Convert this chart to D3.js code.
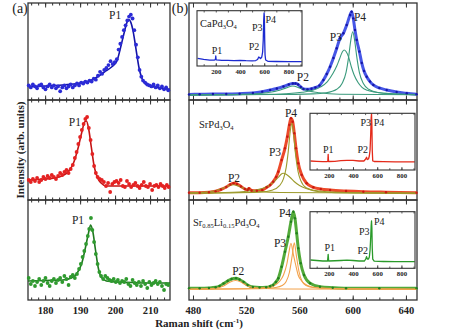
<!DOCTYPE html>
<html>
<head>
<meta charset="utf-8">
<script src="https://cdn.jsdelivr.net/npm/d3@7"></script>
<style>
  body { margin: 0; background: #fff; }
  svg text { font-family: "Liberation Serif", "DejaVu Serif", serif; fill: #222; }
  .tick text { font-weight: bold; }
</style>
</head>
<body>
<svg width="474" height="331" font-family="Liberation Serif, DejaVu Serif, serif"></svg>
<script>
// ---- (a) P1 mode, raw points and fitted line [shift, intensity] ----
const caP1Dots = [[175.3,15],[175.9,13],[176.5,16],[177.1,14],[177.7,12],[178.3,15],[178.9,16],[179.5,13],[180.1,11],[180.7,14],[181.3,16],[181.9,13],[182.5,15],[183.1,12],[183.7,14],[184.3,9],[184.9,13],[185.5,15],[186.1,12],[186.7,14],[187.3,16],[187.9,13],[188.5,15],[189.1,17],[189.7,15],[190.3,18],[190.9,17],[191.5,19],[192.1,18],[192.7,20],[193.3,19],[193.9,22],[194.5,21],[195.1,25],[195.7,29],[196.3,27],[196.9,31],[197.5,33],[198.1,36],[198.7,40],[199.3,37],[199.9,39],[200.5,42],[201.0,52],[201.5,58],[202.0,65],[202.5,72],[203.0,77],[203.5,82],[204.0,86],[204.5,88],[205.0,84],[205.5,72],[206.0,57],[206.5,44],[207.0,31],[207.5,24],[208.0,20],[208.6,18],[209.2,16],[209.8,15],[210.4,14],[211.0,16],[211.6,13],[212.2,15],[212.8,12],[213.4,14],[214.0,11],[214.6,13],[215.2,10]];
const caP1Fit = [[175.1,14],[180,14.5],[185,15.5],[190,17.5],[193,20],[195,24],[197,29],[199,34],[200.5,40],[201.5,53],[202.5,68],[203.3,79],[203.9,83],[204.5,80],[205.2,70],[206,52],[206.8,34],[207.5,24],[208.3,18],[209.5,15],[212,13],[215.7,11]];

const srP1Dots = [[175.3,20],[175.9,18],[176.5,21],[177.1,19],[177.7,22],[178.3,18],[178.9,20],[179.5,23],[180.1,21],[180.7,24],[181.3,22],[181.9,25],[182.5,23],[183.1,21],[183.7,24],[184.3,27],[184.9,25],[185.5,28],[186.1,30],[186.7,27],[187.3,31],[187.9,35],[188.5,42],[189.0,48],[189.5,56],[190.0,63],[190.5,70],[191.0,76],[191.5,81],[192.0,83],[192.5,72],[193.0,60],[193.5,46],[194.0,34],[194.5,27],[195.0,23],[195.6,21],[196.2,20],[196.8,18],[197.4,14],[198.0,17],[198.6,8],[199.2,16],[199.8,18],[200.4,19],[201.0,17],[201.6,20],[202.2,14],[202.8,13],[203.4,19],[204.0,16],[204.6,13],[205.2,15],[205.8,17],[206.4,14],[207.0,12],[207.6,15],[208.2,18],[208.8,14],[209.4,13],[210.0,16],[210.6,10],[211.2,14],[211.8,15],[212.4,13],[213.0,16],[213.6,14],[214.2,12],[214.8,15],[215.3,13]];
const srP1Fit = [[175.1,20],[180,21],[184,23],[186.5,28],[188,36],[189.5,53],[190.5,68],[191.3,78],[191.8,79],[192.4,72],[193.2,53],[194,34],[195,22],[196,17],[197.5,14],[200,14],[205,14],[210,14],[215.7,14]];

const liP1Dots = [[175.3,22],[175.9,16],[176.5,19],[177.1,14],[177.7,18],[178.3,21],[178.9,15],[179.5,19],[180.1,22],[180.7,17],[181.3,14],[181.9,19],[182.5,21],[183.1,17],[183.7,20],[184.3,22],[184.9,18],[185.5,24],[186.1,21],[186.7,15],[187.3,23],[187.9,25],[188.5,22],[189.1,26],[189.7,31],[190.2,36],[190.7,43],[191.2,49],[191.7,56],[192.2,64],[192.6,71],[193.1,82],[193.5,70],[194.0,58],[194.5,46],[195.0,36],[195.5,28],[196.0,24],[196.6,21],[197.2,24],[197.8,22],[198.4,20],[199.0,19],[199.6,21],[200.2,18],[200.8,20],[201.4,17],[202.0,19],[202.6,18],[203.2,21],[203.8,16],[204.4,14],[205.0,20],[205.6,17],[206.2,15],[206.8,18],[207.4,14],[208.0,19],[208.6,16],[209.2,12],[209.8,18],[210.4,15],[211.0,17],[211.6,19],[212.2,16],[212.8,18],[213.4,14],[214.0,10],[214.6,16],[215.2,15]];
const liP1Fit = [[175.1,19],[180,19.5],[185,20],[187.5,22],[189,26],[190.5,37],[191.5,52],[192.4,67],[193.0,75],[193.6,69],[194.4,50],[195.2,32],[196,23],[197.5,19],[200,18],[205,17.5],[210,17],[215.7,17]];

// ---- (b) P2-P4 region, measured spectra ----
const caSpectrum = [[477,5.7],[485,5.9],[495,6.2],[505,6.2],[515,6.5],[525,7.2],[532,8.6],[538,10.3],[543,11.9],[548,13.9],[552,16],[555,17],[557,17],[559,16],[561,13.4],[563,11.3],[566,11],[569,11.6],[572,12.9],[575,14.9],[578,20.6],[580.5,26.8],[583,34.3],[585.5,43.3],[588,53.3],[590.4,63.6],[593,68.8],[595.5,77.3],[598,87.6],[599.2,91],[600.4,84.2],[601.7,72.2],[603,61.9],[605,50],[606.8,38.1],[608.5,30],[610.5,24],[613,19],[615.5,15.5],[620,12.4],[625.5,10.3],[633,8.2],[640.6,6.9],[648,5.9]];
const srSpectrum = [[477,7.3],[485,7.3],[492,7.7],[497,8.7],[501,10.5],[505,13],[508,15.5],[510.5,16.7],[513,16],[516,13.5],[519,11],[521,10],[522,11.5],[524,9.5],[528,9.3],[532,10],[535.4,12.7],[538,15],[540.3,18.3],[542.5,23],[544.1,28.3],[546.6,40],[549.1,51.7],[550.9,63.3],[552.4,75],[553.6,81.7],[554.9,78.3],[556.1,66.7],[557.4,51.7],[559.1,36.7],[561.7,25],[565.4,16.7],[570.4,12.7],[576,11],[583,10],[595,9],[608,8.3],[625,7.8],[648,7.3]];
const liSpectrum = [[477,11.7],[485,11.7],[492,12],[497,12.7],[500,14],[503,16.5],[506,19],[509,21],[512.3,21.7],[515,20.5],[518,18],[521,15],[525,13],[530,12.5],[535,12.7],[538,13.7],[540.3,15],[542.3,18],[544.1,21.7],[546.6,33.3],[549.1,48.3],[551.6,63.3],[553.6,78.3],[555.4,88.3],[556.6,81.7],[557.9,66.7],[559.1,51.7],[560.9,36.7],[563.4,25],[568,16.7],[575.4,13.3],[585,12.3],[595,11.7],[620,11.7],[648,11.7]];

// ---- (b) fitted components ----
const caP2Comp = [[477,5.3],[520,6],[535,7.5],[545,10],[550,12.5],[555,14.5],[560,12.5],[565,10],[575,7.5],[590,6],[648,5.4]];
const caP3Comp = [[477,5.3],[530,5.8],[550,6.5],[562,8],[570,10],[576,13.5],[581,19],[585,27],[588,35],[590,42],[592,49],[593.5,51.5],[595,50],[597,44],[599,34],[601,26],[604,18],[607,13],[611,10],[616,8.2],[625,6.8],[640,5.8],[648,5.6]];
const caP4Comp = [[477,5.3],[540,5.6],[570,6.3],[580,7.4],[588,11],[592,17],[595,28.5],[597,45],[598.5,61],[600,70.4],[601.5,61],[603,45],[605,28.5],[608,17],[612,11],[620,7.4],[630,6.2],[648,5.5]];

const srP2Comp = [[477,7],[490,8],[498,9.8],[503,12],[507,14.3],[510.3,15.3],[514,14],[518,11.8],[523,9.8],[530,8.4],[545,7.5],[648,6.8]];
const srP3Comp = [[477,6.9],[510,7.8],[525,9.5],[532,11.5],[537,14.5],[541,18.5],[544,22.5],[546,25.5],[547.8,26.7],[550,25.8],[553,22.5],[556,18.5],[560,14.5],[565,11.5],[572,9.5],[585,8],[610,7.2],[648,6.9]];
const srP4Comp = [[477,6.8],[530,7.9],[540,10.1],[545,14.3],[548,21.4],[550,32.4],[551.5,47.6],[553,68],[554.2,76.7],[555.5,66.8],[557,46.3],[559,28.2],[561,19.4],[565,12.3],[575,8.3],[600,7],[648,6.8]];

const liP2Comp = [[477,10.8],[495,11.5],[503,14],[508,18],[512,19.5],[516,18],[521,14],[530,11.8],[548,11],[648,10.8]];
const liP3Comp = [[477,10.8],[520,11.3],[535,12.5],[541,14.5],[545,18.5],[548,25],[550.5,36],[552,47],[553.6,56.7],[555.2,47],[557,36],[559,25],[562,18.5],[566,14.5],[572,12.5],[590,11.3],[648,10.8]];
const liP4Comp = [[477,10.8],[530,11.2],[542,12.5],[547,14.5],[550,18.5],[552.5,28],[554.5,44],[556.1,57.3],[557.7,44],[559.7,28],[562,18.5],[565,14.5],[570,12.5],[590,11.2],[648,10.8]];

// ---- insets: full spectra ----
const caFull = [[50,13.9],[100,12.1],[150,10.8],[190,10.8],[197,11.8],[200,18.1],[203,11.2],[250,10.3],[300,10.3],[350,9.9],[400,10.3],[450,9.6],[500,9.4],[530,9.9],[545,11.8],[555,16.3],[560,15.4],[570,13.6],[580,16.3],[587,25.3],[592,47],[596,83.2],[599,95.8],[601,90.4],[604,47],[607,19.9],[612,10.8],[630,8.5],[700,8.1],[800,7.8],[910,7.8]];
const srFull = [[50,15.9],[100,15.3],[150,14.6],[185,14.6],[192,15],[195,27.7],[198,15],[250,15.3],[300,16.4],[350,17.1],[400,16.8],[450,15.9],[490,15.9],[505,19.4],[512,22.4],[518,18.5],[528,19.4],[535,24.7],[541,35.3],[546,61.7],[550,91.7],[553,98.8],[556,79.4],[559,35.3],[563,15.9],[575,15],[650,14.6],[750,14.3],[910,14.3]];
const liFull = [[50,14.7],[100,13.8],[150,12.9],[190,12.9],[195,24.7],[199,12.9],[250,13.3],[300,13.8],[350,14.3],[400,13.8],[450,12.9],[495,12.9],[505,16.4],[512,20.5],[518,16.4],[528,16.4],[535,20],[541,32.3],[546,53.5],[550,74.7],[553,83.6],[556,71.2],[559,35.9],[563,16.4],[575,12.5],[650,12],[750,11.7],[910,11.7]];

const ticksA = [180, 190, 200, 210];
const ticksB = [480, 520, 560, 600, 640];
const ticksInset = [200, 400, 600, 800];

const svg = d3.select('svg');

const rows = [{ top: 3, bottom: 100 }, { top: 100, bottom: 200 }, { top: 200, bottom: 300 }];
const xA = d3.scaleLinear().domain([175.1, 215.7]).range([28, 170]);
const xB = d3.scaleLinear().domain([477, 648.3]).range([189, 417]);
const yRow = rows.map(r => d3.scaleLinear().domain([0, 100]).range([r.bottom, r.top]));

function frame(x, r, major, minor, labels) {
  const g = svg.append('g');
  const hide = sel => sel.select('.domain').remove();
  g.append('g').attr('transform', `translate(0,${r.bottom})`)
    .call(d3.axisBottom(x).tickValues(minor).tickSize(-2.5).tickFormat('')).call(hide);
  g.append('g').attr('transform', `translate(0,${r.top})`)
    .call(d3.axisTop(x).tickValues(minor).tickSize(-2.5).tickFormat('')).call(hide);
  g.append('g').attr('transform', `translate(0,${r.top})`)
    .call(d3.axisTop(x).tickValues(major).tickSize(-4.5).tickFormat('')).call(hide);
  const bx = g.append('g').attr('transform', `translate(0,${r.bottom})`)
    .call(d3.axisBottom(x).tickValues(major).tickSize(-4.5).tickPadding(7)
      .tickFormat(labels ? d3.format('d') : '')).call(hide);
  bx.selectAll('.tick text').attr('font-size', 10.5).attr('fill', '#222');
  g.selectAll('.tick line').attr('stroke', '#333').attr('stroke-width', 1);
  const [x0, x1] = x.range();
  g.append('rect').attr('x', x0).attr('y', r.top).attr('width', x1 - x0)
    .attr('height', r.bottom - r.top).attr('fill', 'none')
    .attr('stroke', '#333').attr('stroke-width', 1.3);
}

function curve(x, y, data, color, width, shape) {
  svg.append('path').datum(data)
    .attr('fill', 'none').attr('stroke', color).attr('stroke-width', width)
    .attr('stroke-linejoin', 'round')
    .attr('d', d3.line().x(d => x(d[0])).y(d => y(d[1])).curve(shape || d3.curveMonotoneX));
}

function dots(x, y, data, color, r) {
  svg.append('g').selectAll('circle').data(data).join('circle')
    .attr('cx', d => x(d[0])).attr('cy', d => y(d[1])).attr('r', r).attr('fill', color);
}

function label(x, y, pos, text, size) {
  svg.append('text').attr('x', x(pos[0])).attr('y', y(pos[1]))
    .attr('text-anchor', 'middle').attr('dominant-baseline', 'central')
    .attr('font-size', size).text(text);
}

// chemical formula with subscripts, parts = [[text, isSub], ...]
function formula(x, y, pos, parts, size) {
  const t = svg.append('text').attr('x', x(pos[0])).attr('y', y(pos[1]))
    .attr('dominant-baseline', 'central').attr('font-size', size);
  let sub = false;
  parts.forEach(([s, isSub]) => {
    const dy = isSub === sub ? 0 : (isSub ? 3 : -3);
    t.append('tspan').attr('dy', dy).attr('font-size', isSub ? size * 0.62 : size).text(s);
    sub = isSub;
  });
}

// ---------------- panel (a) ----------------
const minorA = d3.range(176, 216, 2);
rows.forEach((r, i) => frame(xA, r, ticksA, minorA, i === 2));

const panelA = [
  { dots: caP1Dots, fit: caP1Fit, dot: '#2b2bd6', line: '#1414a8', lab: [200, 87.6] },
  { dots: srP1Dots, fit: srP1Fit, dot: '#e42222', line: '#c41414', lab: [188.5, 78] },
  { dots: liP1Dots, fit: liP1Fit, dot: '#2f9a2f', line: '#1f7a1f', lab: [189.4, 80] }
];
panelA.forEach((p, i) => {
  curve(xA, yRow[i], p.fit, p.line, 1.6);
  dots(xA, yRow[i], p.dots, p.dot, 1.9);
  label(xA, yRow[i], p.lab, 'P1', 11.5);
});

// ---------------- panel (b) ----------------
const minorB = d3.range(480, 650, 10);
rows.forEach((r, i) => frame(xB, r, ticksB, minorB, i === 2));

const panelB = [
  { data: caSpectrum, comps: [caP2Comp, caP3Comp, caP4Comp], band: '#4656e6', dot: '#1616a6', comp: '#3a9a7c',
    labs: [['P2', [562.6, 23.7]], ['P3', [587.4, 65]], ['P4', [605.5, 85.6]]] },
  { data: srSpectrum, comps: [srP2Comp, srP3Comp, srP4Comp], band: '#ec4a2a', dot: '#c81a12', comp: '#9c9a2c',
    labs: [['P2', [510.8, 22]], ['P3', [541.6, 48]], ['P4', [553.6, 87]]] },
  { data: liSpectrum, comps: [liP2Comp, liP3Comp, liP4Comp], band: '#52aa3a', dot: '#22801e', comp: '#f2a24c',
    labs: [['P2', [514, 29]], ['P3', [545.4, 57]], ['P4', [549.1, 87]]] }
];
panelB.forEach((p, i) => {
  curve(xB, yRow[i], p.data, p.band, 3);
  p.comps.forEach(c => curve(xB, yRow[i], c, p.comp, 1.1));
  dots(xB, yRow[i], p.data, p.dot, 1.2);
  p.labs.forEach(([t, pos]) => label(xB, yRow[i], pos, t, 11.5));
});

formula(xB, yRow[1], [484.5, 76], [['SrPd', false], ['3', true], ['O', false], ['4', true]], 10.5);
formula(xB, yRow[2], [480, 78.3], [['Sr', false], ['0.85', true], ['Li', false], ['0.15', true],
  ['Pd', false], ['3', true], ['O', false], ['4', true]], 10.5);

// ---------------- insets ----------------
const insets = [
  { box: { x: 197, y: 10.7, w: 105, h: 55.3 }, data: caFull, color: '#1c2ad0',
    labs: [['P1', [210, 28.9]], ['P2', [515.7, 34.4]], ['P3', [543, 70]], ['P4', [653.7, 84.4]]],
    name: [[69.8, 77.8], [['CaPd', false], ['3', true], ['O', false], ['4', true]]] },
  { box: { x: 310, y: 113.3, w: 105, h: 56.7 }, data: srFull, color: '#e42a1a',
    labs: [['P1', [196, 36.5]], ['P2', [480, 36.5]], ['P3', [504.7, 83.4]], ['P4', [614.8, 83.4]]] },
  { box: { x: 310, y: 211.7, w: 105, h: 56.6 }, data: liFull, color: '#2a9a2a',
    labs: [['P1', [207.7, 37.1]], ['P2', [480, 31.1]], ['P3', [493.4, 65.9]], ['P4', [617.2, 82.3]]] }
];
insets.forEach(ins => {
  const b = ins.box;
  const x = d3.scaleLinear().domain([45, 912]).range([b.x, b.x + b.w]);
  const y = d3.scaleLinear().domain([0, 100]).range([b.y + b.h, b.y]);
  svg.append('rect').attr('x', b.x).attr('y', b.y).attr('width', b.w).attr('height', b.h)
    .attr('fill', '#fff');
  const g = svg.append('g');
  const hide = sel => sel.select('.domain').remove();
  g.append('g').attr('transform', `translate(0,${b.y + b.h})`)
    .call(d3.axisBottom(x).tickValues(d3.range(100, 901, 100)).tickSize(-1.8).tickFormat('')).call(hide);
  g.append('g').attr('transform', `translate(0,${b.y})`)
    .call(d3.axisTop(x).tickValues(d3.range(100, 901, 100)).tickSize(-1.8).tickFormat('')).call(hide);
  const bx = g.append('g').attr('transform', `translate(0,${b.y + b.h})`)
    .call(d3.axisBottom(x).tickValues(ticksInset).tickSize(-3).tickPadding(3)).call(hide);
  bx.selectAll('.tick text').attr('font-size', 6.8).attr('fill', '#222');
  g.selectAll('.tick line').attr('stroke', '#333').attr('stroke-width', 0.8);
  curve(x, y, ins.data, ins.color, 1.3, d3.curveLinear);
  ins.labs.forEach(([t, pos]) => label(x, y, pos, t, 10));
  if (ins.name) formula(x, y, ins.name[0], ins.name[1], 10.5);
  svg.append('rect').attr('x', b.x).attr('y', b.y).attr('width', b.w).attr('height', b.h)
    .attr('fill', 'none').attr('stroke', '#333').attr('stroke-width', 1.1);
});

// ---------------- titles ----------------
svg.append('text').attr('x', 20).attr('y', 13).attr('text-anchor', 'middle')
  .attr('font-size', 14).text('(a)');
svg.append('text').attr('x', 180).attr('y', 13).attr('text-anchor', 'middle')
  .attr('font-size', 14).text('(b)');

svg.append('text')
  .attr('transform', 'translate(24,150) rotate(-90)')
  .attr('text-anchor', 'middle').attr('font-size', 11).attr('font-weight', 'bold')
  .text('Intensity (arb. units)');

const xt = svg.append('text').attr('x', 199).attr('y', 327).attr('text-anchor', 'middle')
  .attr('font-size', 11).attr('font-weight', 'bold');
xt.append('tspan').text('Raman shift (cm');
xt.append('tspan').attr('dy', -4).attr('font-size', 7).text('-1');
xt.append('tspan').attr('dy', 4).text(')');
</script>
</body>
</html>
